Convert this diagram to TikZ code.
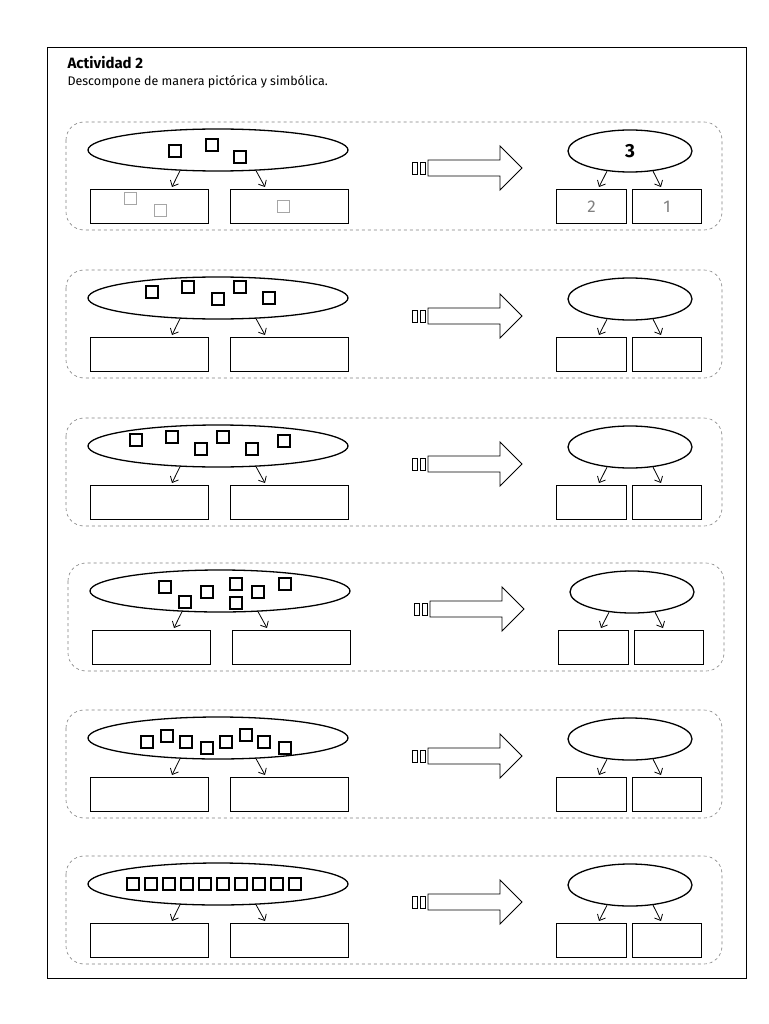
\documentclass[tikz,border=0pt]{standalone}
\usepackage{fontspec}
\setmainfont{Fira Sans}
\usetikzlibrary{shapes.geometric,arrows.meta}
\begin{document}
\begin{tikzpicture}[x=1pt,y=-1pt,
  oval/.style={draw,ellipse,line width=1.3pt,inner sep=0pt},
  slot/.style={draw,line width=1pt,inner sep=0pt,anchor=north west},
  sq/.style={draw,line width=1.3pt,minimum size=12pt,inner sep=0pt},
  gsq/.style={draw=gray!70,line width=1pt,minimum size=12pt,inner sep=0pt},
  con/.style={-{Straight Barb[length=5pt,width=9pt]},line width=0.8pt},
  frame/.style={draw=gray,dashed,line width=0.6pt,rounded corners=18pt}]
\useasboundingbox (0,0) rectangle (768,1024);
\draw[line width=0.8pt] (47,47) rectangle (746,978);
\node[anchor=west,font=\bfseries\fontsize{15}{17}\selectfont] (t1) at (64,63) {Actividad 2};
\node[anchor=west,font=\fontsize{12.5}{14}\selectfont] (t2) at (64,82) {Descompone de manera pictórica y simbólica.};
\foreach \i/\ox/\oy in {1/66/122,2/66/270,3/66/418,4/68/563,5/66/710,6/66/856}{
 \begin{scope}[shift={(\ox,\oy)}]
  \draw[frame] (0,0) rectangle (656,108);
  \node[oval,minimum width=260pt,minimum height=42pt] (L\i) at (152,28) {};
  \node[slot,minimum width=118pt,minimum height=34pt] (A\i) at (24,67) {};
  \node[slot,minimum width=118pt,minimum height=34pt] (B\i) at (164,67) {};
  \draw[line width=0.9pt] (346,40) rectangle (351,52) (354,40) rectangle (359,52);
  \draw[line width=0.9pt] (362,38) -- (434,38) -- (434,24) -- (456,46) -- (434,68) -- (434,54) -- (362,54) -- cycle;
  \node[oval,minimum width=124pt,minimum height=42pt] (R\i) at (564,29) {};
  \node[slot,minimum width=70pt,minimum height=34pt] (C\i) at (490,67) {};
  \node[slot,minimum width=69pt,minimum height=34pt] (D\i) at (566,67) {};
 \end{scope}
 \draw[con] ([xshift=-38pt,yshift=1pt]L\i.south) -- ([xshift=82pt,yshift=2pt]A\i.north west);
 \draw[con] ([xshift=38pt,yshift=1pt]L\i.south) -- ([xshift=35pt,yshift=2pt]B\i.north west);
 \draw[con] ([xshift=-23pt,yshift=1.5pt]R\i.south) -- ([xshift=43pt,yshift=2pt]C\i.north west);
 \draw[con] ([xshift=23pt,yshift=1.5pt]R\i.south) -- ([xshift=29pt,yshift=2pt]D\i.north west);
}
\node[font=\bfseries\fontsize{19}{20}\selectfont] (n3) at (R1) {3};
\node[font=\fontsize{17}{18}\selectfont,text=gray] (n2) at (C1) {2};
\node[font=\fontsize{17}{18}\selectfont,text=gray] (n1) at (D1) {1};
\foreach \x/\y [count=\k] in {175/151,212/145,240/157,
  152/292,188/287,218/299,240/287,269/298,
  136/440,172/437,201/449,223/437,252/449,284/441,
  165/587,185/602,207/592,236/584,236/603,258/592,285/584,
  147/742,167/736,186/742,207/748,226/742,246/735,264/742,285/748}
  \node[sq] (s\k) at (\x,\y) {};
\foreach \j in {0,...,9}
  \node[sq] (r\j) at (133+18*\j,884) {};
\node[gsq] (g1) at (130,199) {};
\node[gsq] (g2) at (160,211) {};
\node[gsq] (g3) at (283,207) {};
\end{tikzpicture}
\end{document}
